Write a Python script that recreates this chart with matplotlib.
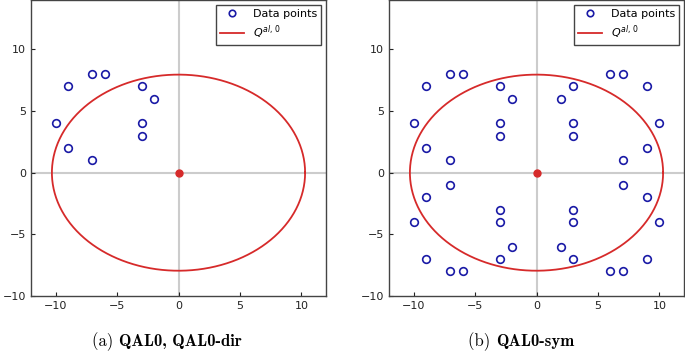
import numpy as np
import matplotlib
matplotlib.use("Agg")
from matplotlib import pyplot as plt

# data points
pts_x = [-10, -9, -9, -7, -6, -7, -3, -2, -3, -3]
pts_y = [4, 7, 2, 8, 8, 1, 7, 6, 4, 3]

# symmetric version for panel (b)
sym_x = pts_x + [-v for v in pts_x] + pts_x + [-v for v in pts_x]
sym_y = pts_y + pts_y + [-v for v in pts_y] + [-v for v in pts_y]

# ellipse Q^{al,0}: semi-axes
ell_a = 10.3
ell_b = 7.95
center = (0, 0)

captions = [("(a) ", "QAL0, QAL0-dir"), ("(b) ", "QAL0-sym")]

blue = "#1a1aa6"
red = "#d62a2a"

fig = plt.figure(figsize=(6.85, 3.55), dpi=100)
ax1 = fig.add_axes([31 / 685, 59 / 355, 295 / 685, 296 / 355])
ax2 = fig.add_axes([389 / 685, 59 / 355, 295 / 685, 296 / 355])

t = np.linspace(0, 2 * np.pi, 400)
for ax, xs, ys in [(ax1, pts_x, pts_y), (ax2, sym_x, sym_y)]:
    ax.axhline(0, color="#cccccc", lw=1.5, zorder=0)
    ax.axvline(0, color="#cccccc", lw=1.5, zorder=0)
    ax.plot(xs, ys, "o", ls="none", mfc="none", mec=blue, mew=1.2, ms=5.5,
            label="Data points")
    ax.plot(center[0] + ell_a * np.cos(t), center[1] + ell_b * np.sin(t),
            color=red, lw=1.3, label=r"$Q^{al,\,0}$")
    ax.plot([center[0]], [center[1]], "o", color=red, ms=5)
    ax.set_xlim(-12, 12)
    ax.set_ylim(-10, 14)
    ax.set_xticks([-10, -5, 0, 5, 10])
    ax.set_yticks([-10, -5, 0, 5, 10])
    ax.tick_params(direction="in", length=3, labelsize=8, colors="#222222",
                   top=False, right=False)
    for s in ax.spines.values():
        s.set_color("#444444")
        s.set_linewidth(1.0)
    leg = ax.legend(loc="upper right", fontsize=8, fancybox=False,
                    framealpha=1, edgecolor="#444444", borderaxespad=0.45,
                    handlelength=2.2, borderpad=0.35, labelspacing=0.4,
                    markerscale=0.85)
    leg.get_frame().set_linewidth(1.0)

for (lab, bold), xc in zip(captions, [167 / 685, 521 / 685]):
    t1 = fig.text(xc, 9 / 355, lab, family="cmr10", fontsize=12,
                  ha="right", va="baseline")
    fig.canvas.draw()
    w2 = fig.text(0, 0, bold, family="cmb10", fontsize=12)
    r = fig.canvas.get_renderer()
    bw = w2.get_window_extent(r).width / fig.bbox.width
    w2.remove()
    bw1 = t1.get_window_extent(r).width / fig.bbox.width
    start = xc - (bw + bw1) / 2
    t1.set_position((start + bw1, 9 / 355))
    fig.text(start + bw1, 9 / 355, bold, family="cmb10", fontsize=12,
             ha="left", va="baseline")

fig.savefig("out.png", dpi=100)
